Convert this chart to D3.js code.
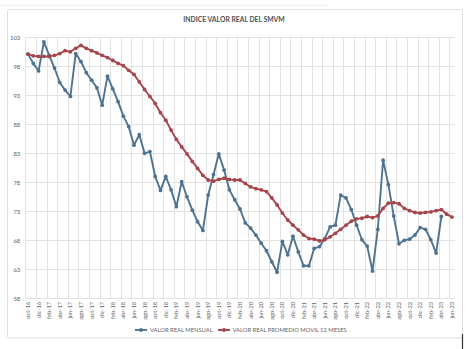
<!DOCTYPE html>
<html><head><meta charset="utf-8">
<script src="https://cdn.jsdelivr.net/npm/d3@7"></script>
<style>
body{margin:0;background:#fff}
svg{display:block}
text{font-family:Lato,"Open Sans",sans-serif}
</style>
</head><body>
<svg id="c" width="474" height="349"></svg>
<script>
const title = "INDICE VALOR REAL DEL SMVM";
const seriesNames = ["VALOR REAL MENSUAL", "VALOR REAL PROMEDIO MOVIL 12 MESES"];
const categories = [
 "oct-16","nov-16","dic-16",
 "ene-17","feb-17","mar-17","abr-17","may-17","jun-17","jul-17","ago-17","sep-17","oct-17","nov-17","dic-17",
 "ene-18","feb-18","mar-18","abr-18","may-18","jun-18","jul-18","ago-18","sep-18","oct-18","nov-18","dic-18",
 "ene-19","feb-19","mar-19","abr-19","may-19","jun-19","jul-19","ago-19","sep-19","oct-19","nov-19","dic-19",
 "ene-20","feb-20","mar-20","abr-20","may-20","jun-20","jul-20","ago-20","sep-20","oct-20","nov-20","dic-20",
 "ene-21","feb-21","mar-21","abr-21","may-21","jun-21","jul-21","ago-21","sep-21","oct-21","nov-21","dic-21",
 "ene-22","feb-22","mar-22","abr-22","may-22","jun-22","jul-22","ago-22","sep-22","oct-22","nov-22","dic-22",
 "ene-23","feb-23","mar-23","abr-23","may-23","jun-23"
];
const valorMensual = [
 100.1, 98.5, 97.2, 102.2, 99.9, 97.7, 95.2, 93.9, 92.8, 100.2,
 98.8, 96.9, 95.6, 94.3, 91.3, 96.3, 94.1, 91.9, 89.4, 87.6,
 84.4, 86.2, 83.0, 83.3, 79.0, 76.6, 79.0, 76.7, 73.8, 78.1,
 75.5, 73.2, 71.2, 69.7, 75.8, 79.3, 82.9, 80.1, 76.7, 75.0,
 73.4, 71.0, 70.1, 68.9, 67.5, 66.2, 64.3, 62.5, 67.8, 65.5,
 68.7, 66.0, 63.6, 63.6, 66.6, 66.9, 68.3, 70.3, 70.6, 75.8,
 75.3, 73.3, 70.6, 68.1, 67.0, 62.7, 69.9, 81.8, 77.6, 72.2,
 67.4, 68.0, 68.2, 68.9, 70.2, 69.9, 68.1, 65.8, 72.1
];
const promedioMovil = [
 100.1, 99.8, 99.7, 99.7, 99.7, 99.9, 100.2, 100.7, 100.5, 101.1,
 101.6, 101.1, 100.7, 100.3, 99.9, 99.5, 99.0, 98.5, 98.1, 97.3,
 96.6, 95.3, 94.0, 92.8, 91.6, 90.0, 88.7, 87.0, 85.4, 84.1,
 82.9, 81.6, 80.4, 79.2, 78.4, 78.2, 78.5, 78.7, 78.5, 78.4,
 78.4, 77.8, 77.2, 76.9, 76.7, 76.4, 75.3, 74.1, 72.7, 71.5,
 70.6, 69.8, 68.9, 68.3, 68.2, 67.9, 68.1, 68.6, 69.2, 69.9,
 70.6, 71.3, 71.7, 71.8, 72.1, 71.9, 72.2, 73.5, 74.4, 74.5,
 74.3, 73.5, 73.1, 72.8, 72.7, 72.8, 72.9, 73.1, 73.3, 72.5,
 72.0
];
const yTicks = [58, 63, 68, 73, 78, 83, 88, 93, 98, 103];
const colors = ["#4e7390", "#a6454b"];

const svg = d3.select("#c");
const L = 25.35, R = 454.65, T = 37.3, B = 298.3;
const x = d3.scaleBand().domain(categories).range([L, R]).padding(0);
const y = d3.scaleLinear().domain([58, 103]).range([B, T]);
const cx = c => x(c) + x.bandwidth() / 2;

// faint top artifact line and chart frame
svg.append("line").attr("x1", 0).attr("x2", 328).attr("y1", 5.5).attr("y2", 5.5).attr("stroke", "#f0f0f0");
svg.append("rect").attr("x", 7.5).attr("y", 9.5).attr("width", 455).attr("height", 328.5)
  .attr("rx", 2).attr("fill", "#fff").attr("stroke", "#dedede");
svg.append("line").attr("x1", 462.5).attr("x2", 462.5).attr("y1", 334).attr("y2", 349).attr("stroke", "#333").attr("stroke-width", 1.2);

// title
svg.append("text").attr("x", 234).attr("y", 22).attr("text-anchor", "middle")
  .attr("font-size", 6.8).attr("font-weight", "bold").attr("fill", "#505050").text(title);

// horizontal gridlines
svg.append("g").selectAll("line").data(yTicks).join("line")
  .attr("x1", L).attr("x2", R)
  .attr("y1", d => Math.round(y(d)) + 0.5).attr("y2", d => Math.round(y(d)) + 0.5)
  .attr("stroke", "#e2e2e2").attr("stroke-width", 1);

// vertical gridlines (every 2 categories)
const tickCats = categories.filter((d, i) => i % 2 === 0);
svg.append("g").selectAll("line").data(tickCats).join("line")
  .attr("x1", d => Math.round(x(d)) + 0.5).attr("x2", d => Math.round(x(d)) + 0.5)
  .attr("y1", T).attr("y2", B)
  .attr("stroke", "#e2e2e2").attr("stroke-width", 1);

// y axis labels
const ya = svg.append("g").attr("transform", `translate(${L},0)`)
  .call(d3.axisLeft(y).tickValues(yTicks).tickSize(0).tickPadding(5));
ya.select(".domain").remove();
ya.selectAll("text").attr("font-size", 6).attr("fill", "#666").attr("font-family", "Lato,'Open Sans',sans-serif");

// x axis labels
const xa = svg.append("g").attr("transform", `translate(0,${B})`)
  .call(d3.axisBottom(x).tickValues(tickCats).tickSize(0));
xa.select(".domain").remove();
xa.selectAll("text").attr("font-size", 5.8).attr("fill", "#666")
  .attr("font-family", "Lato,'Open Sans',sans-serif")
  .attr("transform", "rotate(-90)").attr("text-anchor", "end")
  .attr("x", -3.5).attr("y", 0).attr("dy", "0.35em");

// series
const allSeries = [valorMensual, promedioMovil];
const line = d3.line().x((d, i) => cx(categories[i])).y(d => y(d));
allSeries.forEach((vals, s) => {
  const g = svg.append("g");
  g.append("path").datum(vals).attr("d", line).attr("fill", "none")
    .attr("stroke", colors[s]).attr("stroke-width", 1.9).attr("stroke-linejoin", "round");
  g.selectAll("circle").data(vals).join("circle")
    .attr("cx", (d, i) => cx(categories[i])).attr("cy", d => y(d))
    .attr("r", 1.9).attr("fill", colors[s]);
});

// legend
const legendPos = [{lx: 135, tx: 150}, {lx: 218, tx: 232.5}];
seriesNames.forEach((name, s) => {
  const p = legendPos[s], ly = 330;
  svg.append("line").attr("x1", p.lx).attr("x2", p.lx + 12).attr("y1", ly).attr("y2", ly)
    .attr("stroke", colors[s]).attr("stroke-width", 1.9);
  svg.append("circle").attr("cx", p.lx + 6).attr("cy", ly).attr("r", 1.9).attr("fill", colors[s]);
  svg.append("text").attr("x", p.tx).attr("y", ly).attr("dy", "0.35em")
    .attr("font-size", 5.8).attr("fill", "#666").text(name);
});
</script>
</body></html>
